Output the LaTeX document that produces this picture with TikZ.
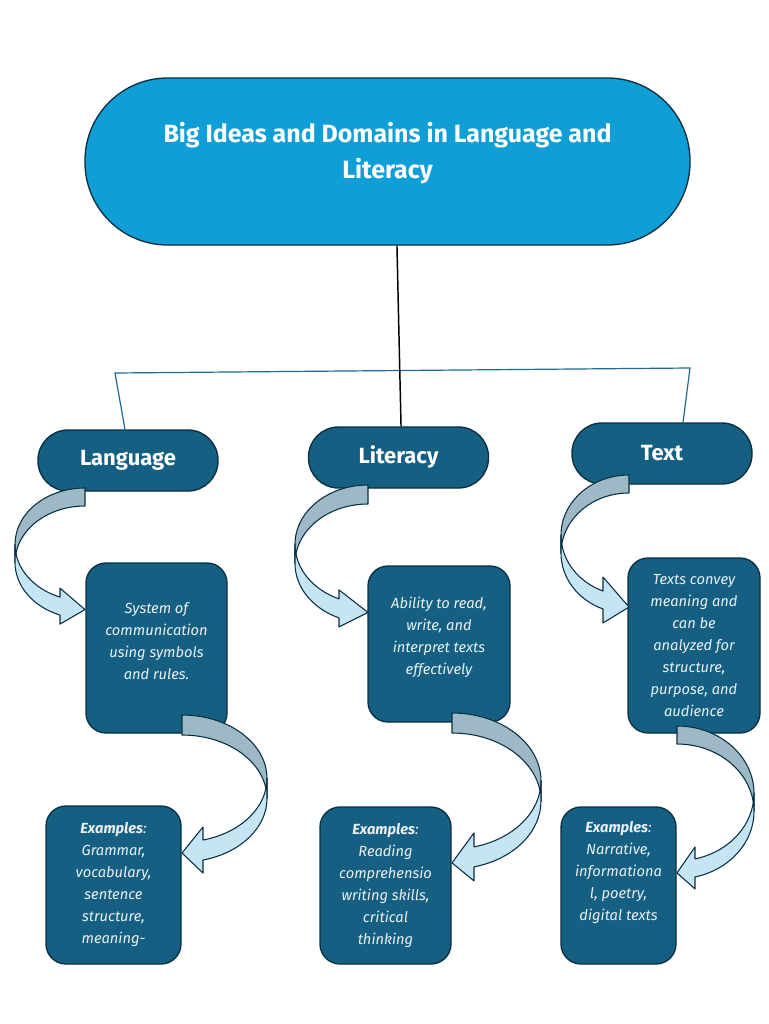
\documentclass[tikz,border=0pt]{standalone}
\usepackage{fontspec}
\setmainfont{Fira Sans}
\usetikzlibrary{calc}
\definecolor{topfill}{HTML}{0F9ED5}
\definecolor{nodefill}{HTML}{156082}
\definecolor{edgec}{HTML}{0A2F41}
\definecolor{bandlight}{HTML}{C5E5F5}
\definecolor{banddark}{HTML}{9DB9C6}
\definecolor{txtc}{HTML}{E9EFF3}
\definecolor{branchc}{HTML}{1F6A94}
% left-curving arrow, head pointing right
\newcommand\curveL[8]{%
  \pgfmathsetmacro\angv{acos(-#6/#3)}%
  \pgfmathsetmacro\syv{sqrt(1-(#6/#3)^2)*#4}%
  \filldraw[backband] (#1,#2-#4) arc[start angle=270,end angle=180,x radius=#3,y radius=#4]
     -- ++(0,#5) arc[start angle=180,end angle=270,x radius=#3,y radius=#4] -- cycle;
  \filldraw[frontband] (#1-#3,#2) arc[start angle=180,end angle=\angv,x radius=#3,y radius=#4]
     -- ++(0,-#7) -- (#1,#2+\syv+#5/2+#8) -- (#1-#6,#2+\syv+#5+#7) -- (#1-#6,#2+\syv+#5)
     arc[start angle=\angv,end angle=180,x radius=#3,y radius=#4] -- cycle;
}
% right-curving arrow, head pointing left
\newcommand\curveR[8]{%
  \pgfmathsetmacro\angv{acos(#6/#3)}%
  \pgfmathsetmacro\syv{sqrt(1-(#6/#3)^2)*#4}%
  \filldraw[backband] (#1,#2-#4) arc[start angle=270,end angle=360,x radius=#3,y radius=#4]
     -- ++(0,#5) arc[start angle=360,end angle=270,x radius=#3,y radius=#4] -- cycle;
  \filldraw[frontband] (#1+#3,#2) arc[start angle=0,end angle=\angv,x radius=#3,y radius=#4]
     -- ++(0,-#7) -- (#1,#2+\syv+#5/2+#8) -- (#1+#6,#2+\syv+#5+#7) -- (#1+#6,#2+\syv+#5)
     arc[start angle=\angv,end angle=0,x radius=#3,y radius=#4] -- cycle;
}
\tikzset{
  topnode/.style={draw=edgec, line width=1pt, fill=topfill, text=white, align=center,
    rounded corners=62pt, font=\bfseries\fontsize{18.7}{27}\selectfont},
  domainbox/.style={draw=edgec, line width=1pt, fill=nodefill, text=white,
    minimum width=135pt, minimum height=45.75pt, rounded corners=22.5pt,
    font=\bfseries\fontsize{16.5}{20}\selectfont},
  descbox/.style={draw=edgec, line width=1pt, fill=nodefill, text=txtc, align=center,
    rounded corners=15pt, inner sep=0pt, font=\itshape\fontsize{11}{16.5}\selectfont},
  backband/.style={draw=edgec, line width=0.8pt, fill=banddark, line join=round},
  frontband/.style={draw=edgec, line width=0.8pt, fill=bandlight, line join=round},
  trunk/.style={draw=black, line width=1.1pt},
  branch/.style={draw=branchc, line width=0.9pt},
}
\begin{document}
\begin{tikzpicture}[x=0.75pt,y=-0.75pt]
\fill[white] (0,0) rectangle (768,1024);
\useasboundingbox (0,0) rectangle (768,1024);

\node[topnode, minimum width=453.75pt, minimum height=125.25pt, text depth=16pt] (top) at (387.5,161.5)
  {Big Ideas and Domains in Language and\\Literacy};

\node[domainbox] (lang) at (128,460.5) {Language};
\node[domainbox] (lit) at (398.5,457.5) {Literacy};
\node[domainbox] (txtn) at (662,453.5) {Text};

\node[descbox, minimum width=105.75pt, minimum height=127.5pt, text depth=11pt] (langd) at (156.5,648)
  {System of\\communication\\using symbols\\and rules.};
\node[descbox, minimum width=106.5pt, minimum height=117pt, text depth=13pt] (litd) at (439,644)
  {Ability to read,\\write, and\\interpret texts\\effectively};
\node[descbox, minimum width=99pt, minimum height=131.25pt] (txtd) at (694,645.5)
  {Texts convey\\meaning and\\can be\\analyzed for\\structure,\\purpose, and\\audience};

\node[descbox, minimum width=101.25pt, minimum height=118.5pt] (lange) at (113.5,885)
  {\textbf{Examples}:\\Grammar,\\vocabulary,\\sentence\\structure,\\meaning-};
\node[descbox, minimum width=98.25pt, minimum height=117.75pt] (lite) at (385.5,885.5)
  {\textbf{Examples}:\\Reading\\comprehensio\\writing skills,\\critical\\thinking};
\node[descbox, minimum width=86.25pt, minimum height=117.75pt, text depth=22.5pt] (txte) at (618.5,885.5)
  {\textbf{Examples}:\\Narrative,\\informationa\\l, poetry,\\digital texts};

% connectors
\coordinate (bl) at (115,373);
\coordinate (br) at (690,368);
\draw[branch] ([xshift=-2.25pt]lang.north) -- (bl) -- (br) -- ([xshift=15.75pt]txtn.north);
\draw[trunk] ([xshift=7.1pt]top.south) -- ([xshift=1.9pt]lit.north);

% curved arrows: domain -> description
\curveL{85}{544.4}{70}{56.4}{18}{25}{9}{3.5}
\curveL{368}{544.4}{73}{59.4}{19}{29}{9}{4}
\curveL{629}{535.3}{68}{60.3}{18}{26}{14}{7}
% curved arrows: description -> examples
\curveR{182}{778.5}{85}{63.5}{20}{21}{13}{3}
\curveR{452}{781}{89}{68}{20}{22}{14}{6}
\curveR{677}{793.4}{77}{67.4}{18}{18}{12}{5}
\end{tikzpicture}
\end{document}
